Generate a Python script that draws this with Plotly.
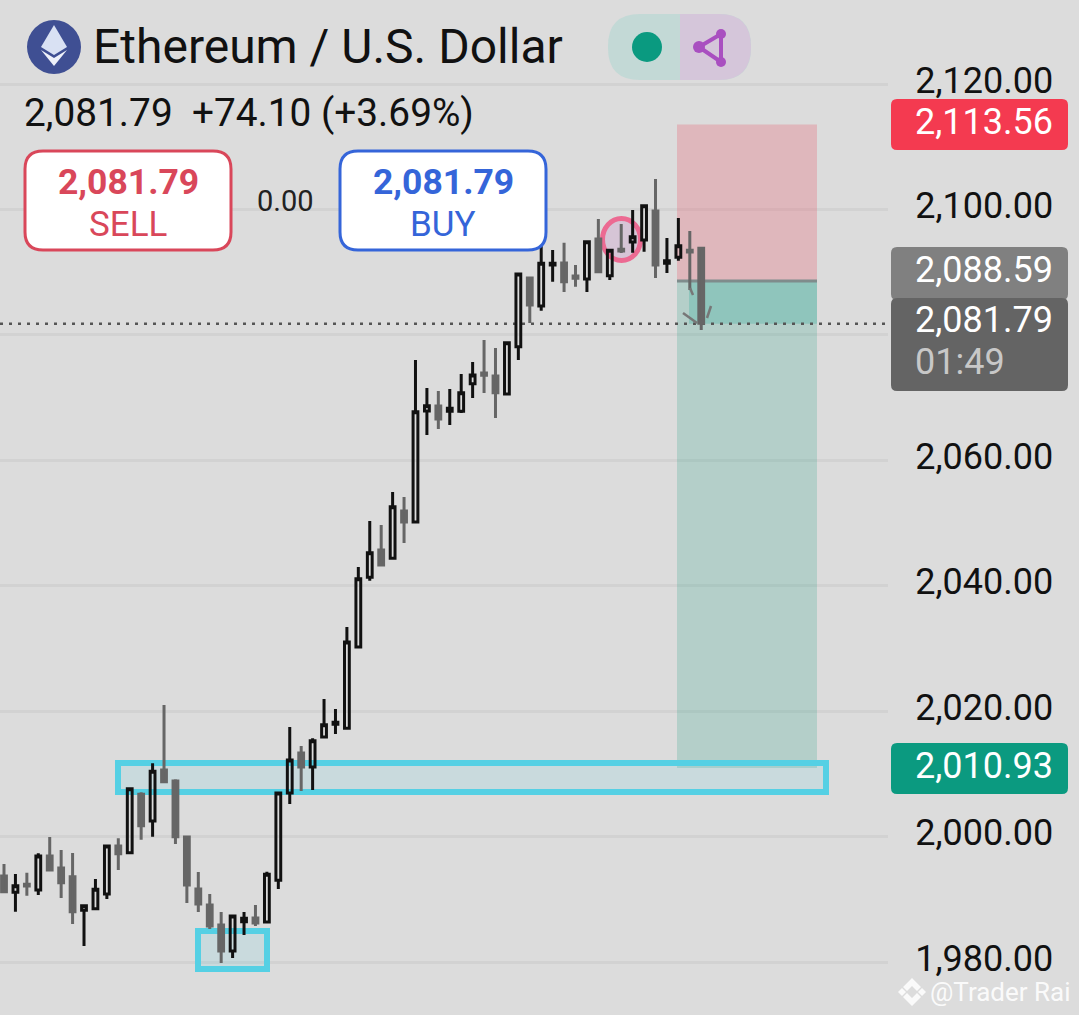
import plotly.graph_objects as go

W, H = 1079, 1015
BG = "#dcdcdc"

# candles
opens = [1993.71, 1991.11, 1992.39, 1991.48, 1996.90, 1994.99, 1993.60, 1988.24, 1988.50, 1990.84,
         1998.50, 1997.42, 2006.74, 2002.48, 2010.61, 2008.86, 1999.93, 1991.64, 1989.09, 1985.90,
         1981.75, 1986.43, 1987.01, 1986.38, 1993.03, 2006.95, 2013.32, 2011.09, 2015.88, 2017.90,
         2017.26, 2030.23, 2041.34, 2045.69, 2044.37, 2051.91, 2050.16, 2067.86, 2068.65, 2067.81,
         2067.81, 2072.21, 2073.92, 2073.44, 2070.57, 2078.11, 2089.06, 2084.60, 2091.14, 2091.45,
         2089.38, 2088.90, 2095.28, 2089.43, 2093.64, 2094.80, 2095.12, 2099.75, 2091.41, 2092.36,
         2093.48, 2093.80]
highs = [1995.63, 1994.03, 1994.24, 1997.33, 1999.93, 1997.86, 1997.38, 1989.09, 1993.23, 1998.65,
         1999.72, 2007.70, 2007.06, 2011.68, 2020.98, 2009.13, 1999.93, 1994.35, 1990.84, 1987.97,
         1987.45, 1987.97, 1989.09, 1994.40, 2007.06, 2017.47, 2014.44, 2015.67, 2021.93, 2020.34,
         2033.41, 2042.98, 2050.32, 2049.68, 2054.94, 2054.14, 2075.99, 2071.52, 2071.05, 2071.36,
         2073.76, 2075.67, 2079.18, 2077.90, 2078.86, 2089.86, 2089.06, 2094.32, 2093.53, 2094.69,
         2091.14, 2094.91, 2098.47, 2093.74, 2097.67, 2099.91, 2100.70, 2104.85, 2095.44, 2098.63,
         2096.56, 2093.85]
lows = [1991.21, 1988.02, 1990.57, 1990.68, 1994.67, 1990.20, 1986.06, 1982.55, 1988.29, 1990.04,
        1994.67, 1997.27, 1999.50, 1999.98, 2008.75, 1998.81, 1989.41, 1987.97, 1985.26, 1979.84,
        1980.64, 1984.30, 1985.74, 1986.38, 1991.64, 2005.19, 2007.27, 2007.42, 2015.88, 2016.35,
        2017.15, 2030.23, 2040.80, 2043.14, 2044.31, 2046.81, 2050.10, 2064.03, 2064.99, 2065.62,
        2067.54, 2069.93, 2070.73, 2066.74, 2070.50, 2075.99, 2081.89, 2083.85, 2088.47, 2086.83,
        2087.68, 2086.83, 2090.07, 2088.74, 2093.05, 2093.10, 2093.26, 2089.06, 2089.86, 2091.82,
        2087.15, 2080.77]
closes = [1991.21, 1992.17, 1992.12, 1996.90, 1994.67, 1992.64, 1988.02, 1988.98, 1991.59, 1998.50,
          1997.27, 2007.63, 2001.73, 2010.41, 2008.75, 1999.98, 1992.28, 1989.25, 1985.74, 1981.75,
          1987.33, 1986.97, 1986.22, 1993.98, 2006.95, 2012.21, 2011.09, 2015.29, 2017.84, 2018.22,
          2031.02, 2041.12, 2045.26, 2043.30, 2052.60, 2050.16, 2067.74, 2068.70, 2066.58, 2068.29,
          2070.77, 2073.60, 2073.55, 2070.77, 2078.75, 2089.70, 2084.76, 2091.41, 2091.41, 2088.47,
          2089.01, 2094.85, 2090.07, 2093.48, 2093.37, 2095.65, 2100.59, 2091.14, 2091.82, 2094.21,
          2093.21, 2081.84]
bars = list(range(len(opens)))

# the 2,080 label sits under the price tags, only its gridline shows
tick_vals = [1980, 2000, 2020, 2040, 2060, 2080, 2100, 2120]
tick_text = ["1,980.00", "2,000.00", "2,020.00", "2,040.00", "2,060.00", "", "2,100.00", "2,120.00"]

stop_price = 2113.56
entry_price = 2088.59
last_price = 2081.79
target_price = 2010.93
zone_upper = [2007.10, 2011.73]
zone_lower = [1978.88, 1984.95]


# pixel <-> axis helpers, the chart scale is 11.43 px per bar and 6.2714 px per dollar
def xv(px):
    return (px - 4) / 11.43


def yv(py):
    return 2120 - (py - 84) / 6.2714


def px(x):
    return x / W


def py(y):
    return 1 - y / H


def rrect(x0, y0, x1, y1, r):
    a, b, c, d = px(x0), px(x1), py(y0), py(y1)
    rx, ry = r / W, r / H
    return (f"M{a + rx},{c} L{b - rx},{c} Q{b},{c} {b},{c - ry} L{b},{d + ry} Q{b},{d} {b - rx},{d} "
            f"L{a + rx},{d} Q{a},{d} {a},{d + ry} L{a},{c - ry} Q{a},{c} {a + rx},{c} Z")


def poly(points):
    return "M" + " L".join(f"{px(x)},{py(y)}" for x, y in points) + " Z"


def panel(x0, y0, x1, y1, r, fill, line=None, width=0):
    return dict(type="path", xref="paper", yref="paper", path=rrect(x0, y0, x1, y1, r), fillcolor=fill,
                line=dict(color=line or fill, width=width), layer="above")


def label(x, y, text, size, color, anchor="left", bold=False):
    return dict(xref="paper", yref="paper", x=px(x), y=py(y), text=f"<b>{text}</b>" if bold else text,
                showarrow=False, xanchor=anchor, yanchor="middle",
                font=dict(family="Roboto", size=size, color=color))


fig = go.Figure()
fig.add_trace(go.Candlestick(
    x=bars, open=opens, high=highs, low=lows, close=closes,
    increasing=dict(line=dict(color="#111111", width=3), fillcolor="rgba(0,0,0,0)"),
    decreasing=dict(line=dict(color="#666666", width=3), fillcolor="#666666"),
    whiskerwidth=0, showlegend=False,
))

shapes = [
    # risk / reward box
    dict(type="rect", x0=xv(677), x1=xv(817), y0=entry_price, y1=stop_price, layer="between",
         fillcolor="rgba(238,56,79,0.22)", line_width=0),
    dict(type="rect", x0=xv(677), x1=xv(817), y0=target_price, y1=entry_price, layer="between",
         fillcolor="rgba(60,168,144,0.25)", line_width=0),
    dict(type="rect", x0=xv(689), x1=xv(817), y0=last_price, y1=entry_price, layer="between",
         fillcolor="rgba(98,183,172,0.45)", line_width=0),
    dict(type="line", x0=xv(677), x1=xv(817), y0=entry_price, y1=entry_price, layer="between",
         line=dict(color="#7f8c8c", width=3)),
    # zones
    dict(type="rect", x0=xv(118), x1=xv(826), y0=zone_upper[0], y1=zone_upper[1], layer="between",
         fillcolor="rgba(85,208,228,0.14)", line=dict(color="#55d0e4", width=6)),
    dict(type="rect", x0=xv(198), x1=xv(267), y0=zone_lower[0], y1=zone_lower[1], layer="between",
         fillcolor="rgba(85,208,228,0.14)", line=dict(color="#55d0e4", width=6)),
    # circled candle
    dict(type="circle", x0=xv(602.5), x1=xv(640.5), y0=yv(260.5), y1=yv(218.5), layer="between",
         fillcolor="rgba(205,165,205,0.42)", line=dict(color="#ec6a92", width=5)),
    # last price line
    dict(type="line", x0=xv(0), x1=xv(888), y0=last_price, y1=last_price, layer="between",
         line=dict(color="#555555", width=2.5, dash="3px,6px")),
    # arrow drawn on the chart
    dict(type="line", x0=xv(690), x1=xv(693), y0=yv(288), y1=yv(295), line=dict(color="#777777", width=2.5)),
    dict(type="line", x0=xv(683), x1=xv(697), y0=yv(313), y1=yv(323), line=dict(color="#777777", width=2.5)),
    dict(type="line", x0=xv(707), x1=xv(711), y0=yv(318), y1=yv(306), line=dict(color="#777777", width=2.5)),
    # header logo
    dict(type="circle", xref="paper", yref="paper", x0=px(27), x1=px(81), y0=py(74), y1=py(20),
         fillcolor="#3f4f93", line_width=0),
    dict(type="path", xref="paper", yref="paper", path=poly([(54, 25), (41, 47), (54, 55), (67, 47)]),
         fillcolor="#d9e1f3", line_width=0),
    dict(type="path", xref="paper", yref="paper", path=poly([(41, 50), (54, 58), (67, 50), (54, 66)]),
         fillcolor="#eef1fa", line_width=0),
    # status pill
    panel(608, 14, 751, 80, 32, "#c3d9d6"),
    dict(type="path", xref="paper", yref="paper", layer="above", line_width=0, fillcolor="#d5c6da",
         path=f"M{px(680)},{py(14)} L{px(719)},{py(14)} Q{px(751)},{py(14)} {px(751)},{py(47)} "
              f"Q{px(751)},{py(80)} {px(719)},{py(80)} L{px(680)},{py(80)} Z"),
    dict(type="circle", xref="paper", yref="paper", x0=px(632), x1=px(662), y0=py(62), y1=py(32),
         fillcolor="#0a9a80", line_width=0),
    dict(type="path", xref="paper", yref="paper", path=poly([(699, 47), (721, 34), (721, 62)]),
         fillcolor="rgba(0,0,0,0)", line=dict(color="#a94fc0", width=4)),
    dict(type="circle", xref="paper", yref="paper", x0=px(693), x1=px(705), y0=py(53), y1=py(41),
         fillcolor="#a94fc0", line_width=0),
    dict(type="circle", xref="paper", yref="paper", x0=px(716), x1=px(726), y0=py(39), y1=py(29),
         fillcolor="#a94fc0", line_width=0),
    dict(type="circle", xref="paper", yref="paper", x0=px(716), x1=px(726), y0=py(67), y1=py(57),
         fillcolor="#a94fc0", line_width=0),
    # sell and buy buttons
    panel(25, 151, 231, 250, 18, "#ffffff", "#d9475a", 3),
    panel(340, 151, 546, 250, 18, "#ffffff", "#3565d9", 3),
    # price tags
    panel(891, 99, 1068, 150, 6, "#f43a50"),
    panel(891, 247, 1068, 300, 6, "#808080"),
    panel(891, 298, 1068, 391, 6, "#646464"),
    panel(891, 743, 1068, 794, 6, "#0b9a80"),
    # watermark icon
    dict(type="path", xref="paper", yref="paper", fillcolor="rgba(255,255,255,0.85)", line_width=0,
         path=poly([(912, 978), (921, 987), (917, 991), (912, 986), (907, 991), (903, 987)])),
    dict(type="path", xref="paper", yref="paper", fillcolor="rgba(255,255,255,0.85)", line_width=0,
         path=poly([(912, 1006), (921, 997), (917, 993), (912, 998), (907, 993), (903, 997)])),
    dict(type="path", xref="paper", yref="paper", fillcolor="rgba(255,255,255,0.85)", line_width=0,
         path=poly([(902, 988), (906, 992), (902, 996), (898, 992)])),
    dict(type="path", xref="paper", yref="paper", fillcolor="rgba(255,255,255,0.85)", line_width=0,
         path=poly([(922, 988), (926, 992), (922, 996), (918, 992)])),
]

annotations = [
    label(91, 47, "Ethereum / U.S. Dollar", 48, "#111111"),
    label(22, 112, "2,081.79&nbsp;&nbsp;+74.10 (+3.69%)", 38.8, "#111111"),
    label(128, 182, "2,081.79", 35.5, "#d9475a", "center", True),
    label(128, 224, "SELL", 35, "#d9475a", "center"),
    label(285, 201, "0.00", 29, "#222222", "center"),
    label(443, 182, "2,081.79", 35.5, "#3565d9", "center", True),
    label(443, 224, "BUY", 35, "#3565d9", "center"),
    label(913, 122, "2,113.56", 36, "#ffffff"),
    label(913, 270, "2,088.59", 36, "#ffffff"),
    label(913, 320, "2,081.79", 36, "#ffffff"),
    label(913, 362, "01:49", 36, "#c8c8c8"),
    label(913, 766, "2,010.93", 36, "#ffffff"),
    label(928, 992, "@Trader Rai", 26, "rgba(255,255,255,0.9)"),
]

fig.update_layout(
    width=W, height=H,
    margin=dict(l=0, r=0, t=0, b=0),
    paper_bgcolor=BG, plot_bgcolor=BG,
    boxgap=0.4,
    showlegend=False,
    shapes=shapes,
    annotations=annotations,
    xaxis=dict(domain=[0, 888 / W], range=[xv(0), xv(888)], type="linear", visible=False,
               rangeslider=dict(visible=False)),
    yaxis=dict(side="right", range=[yv(H), yv(0)], tickvals=tick_vals, ticktext=tick_text,
               showgrid=True, gridcolor="#d2d2d2", gridwidth=2.5, zeroline=False, showline=False,
               ticks="outside", ticklen=19, tickcolor=BG, tickwidth=1, ticklabelshift=-4,
               tickfont=dict(family="Roboto", size=36, color="#111111")),
)

fig.write_html("out.html", config=dict(displayModeBar=False),
               post_script="document.body.style.margin='0';")
